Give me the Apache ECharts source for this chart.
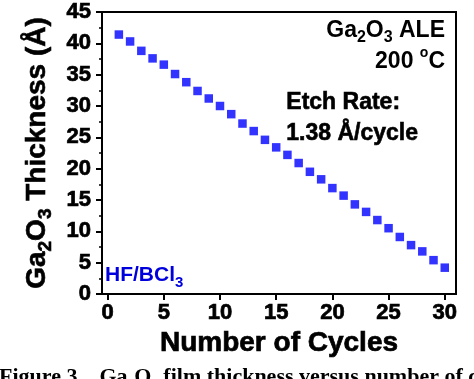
<!DOCTYPE html>
<html>
<head>
<meta charset="utf-8">
<script src="https://cdn.jsdelivr.net/npm/echarts@6/dist/echarts.min.js"></script>
<style>
html,body{margin:0;padding:0;background:#fff;}
#c{width:474px;height:379px;}
</style>
</head>
<body>
<div id="c"></div>
<script>
const cycles = [1,2,3,4,5,6,7,8,9,10,11,12,13,14,15,16,17,18,19,20,21,22,23,24,25,26,27,28,29,30];
const thickness = [41.4,40.3,38.8,37.6,36.6,35.1,33.8,32.4,31.2,30.0,28.7,27.2,26.0,24.6,23.4,22.2,20.9,19.5,18.3,16.9,15.7,14.3,13.1,11.8,10.5,9.1,7.8,6.8,5.4,4.2];
const xTicks = [0,5,10,15,20,25,30];

const FONT = '"Liberation Sans", Arial, sans-serif';
const chart = echarts.init(document.getElementById('c'));
// rich styles for axis names (ECharts text style)
const subA = (size, col) => ({fontSize: size, fontWeight: 'bold', fontFamily: FONT, color: col, verticalAlign: 'bottom', lineHeight: size, textBorderColor: col, textBorderWidth: 0.6});
const mainA = (size, col) => ({fontSize: size, fontWeight: 'bold', fontFamily: FONT, color: col, lineHeight: size + 8, textBorderColor: col, textBorderWidth: 0.6});
// rich styles for graphic text (zrender text style)
const subG = (size, col) => ({fontSize: size, fontWeight: 'bold', fontFamily: FONT, fill: col, verticalAlign: 'bottom', lineHeight: size});
const mainG = (size, col) => ({fontSize: size, fontWeight: 'bold', fontFamily: FONT, fill: col, lineHeight: size + 8});

chart.setOption({
  animation: false,
  backgroundColor: '#fff',
  grid: {left: 102, right: 18, top: 12, bottom: 85, show: true, borderColor: '#000', borderWidth: 2, backgroundColor: 'transparent'},
  xAxis: {
    type: 'value', min: -0.5, max: 31,
    axisLine: {show: true, onZero: false, lineStyle: {color: '#000', width: 2}},
    axisTick: {show: true, inside: false, length: 6, lineStyle: {color: '#000', width: 2}, customValues: xTicks},
    axisLabel: {customValues: xTicks, margin: 8, color: '#000', fontSize: 22, fontWeight: 'bold', fontFamily: FONT, textBorderColor: '#000', textBorderWidth: 0.7},
    splitLine: {show: false},
    name: 'Number of Cycles', nameLocation: 'middle', nameGap: 34,
    nameTextStyle: {color: '#000', fontSize: 28, fontWeight: 'bold', fontFamily: FONT, textBorderColor: '#000', textBorderWidth: 0.7}
  },
  yAxis: {
    type: 'value', min: 0, max: 45, interval: 5,
    axisLine: {show: true, onZero: false, lineStyle: {color: '#000', width: 2}},
    axisTick: {show: true, inside: false, length: 6, lineStyle: {color: '#000', width: 2}},
    minorTick: {show: true, splitNumber: 2, length: 3, lineStyle: {color: '#000', width: 1.5}},
    axisLabel: {margin: 11, color: '#000', fontSize: 22, fontWeight: 'bold', fontFamily: FONT, textBorderColor: '#000', textBorderWidth: 0.7},
    splitLine: {show: false},
    name: '{b|Ga}{s|2}{b|O}{s|3}{b| Thickness (Å)}', nameLocation: 'middle', nameGap: 47, nameRotate: 90,
    nameTextStyle: {rich: {b: mainA(28, '#000'), s: subA(19, '#000')}}
  },
  series: [{
    type: 'scatter',
    data: cycles.map((c, i) => [c, thickness[i]]),
    symbol: 'rect', symbolSize: 8.5,
    itemStyle: {color: '#0000ff'}
  }],
  graphic: [
    {type: 'text', right: 474 - 445, top: 19, style: {
      text: '{b|Ga}{s|2}{b|O}{s|3}{b| ALE}', align: 'right',
      rich: {b: mainG(23, '#000'), s: subG(16, '#000')}}},
    {type: 'text', right: 474 - 445, top: 46, style: {
      text: '{b|200 }{p|o}{b|C}', align: 'right',
      rich: {b: mainG(23, '#000'), p: {fontSize: 14, fontWeight: 'bold', fontFamily: FONT, fill: '#000', verticalAlign: 'top', lineHeight: 14}}}},
    {type: 'text', left: 286, top: 91, style: {
      text: 'Etch Rate:', fill: '#000', stroke: '#000', lineWidth: 0.6, font: 'bold 23px ' + FONT}},
    {type: 'text', left: 286, top: 122, style: {
      text: '1.38 Å/cycle', fill: '#000', stroke: '#000', lineWidth: 0.6, font: 'bold 23px ' + FONT}},
    {type: 'text', left: 105, top: 265, style: {
      text: '{b|HF/BCl}{s|3}',
      rich: {b: mainG(21, '#0000dd'), s: subG(15, '#0000dd')}}},
    {type: 'text', left: -1, top: 366, style: {
      text: 'Figure 3.   Ga\u2082O\u2083 film thickness versus number of cycles',
      fill: '#000', font: 'bold 22px "Liberation Serif", "Times New Roman", serif'}}
  ]
});
</script>
</body>
</html>
